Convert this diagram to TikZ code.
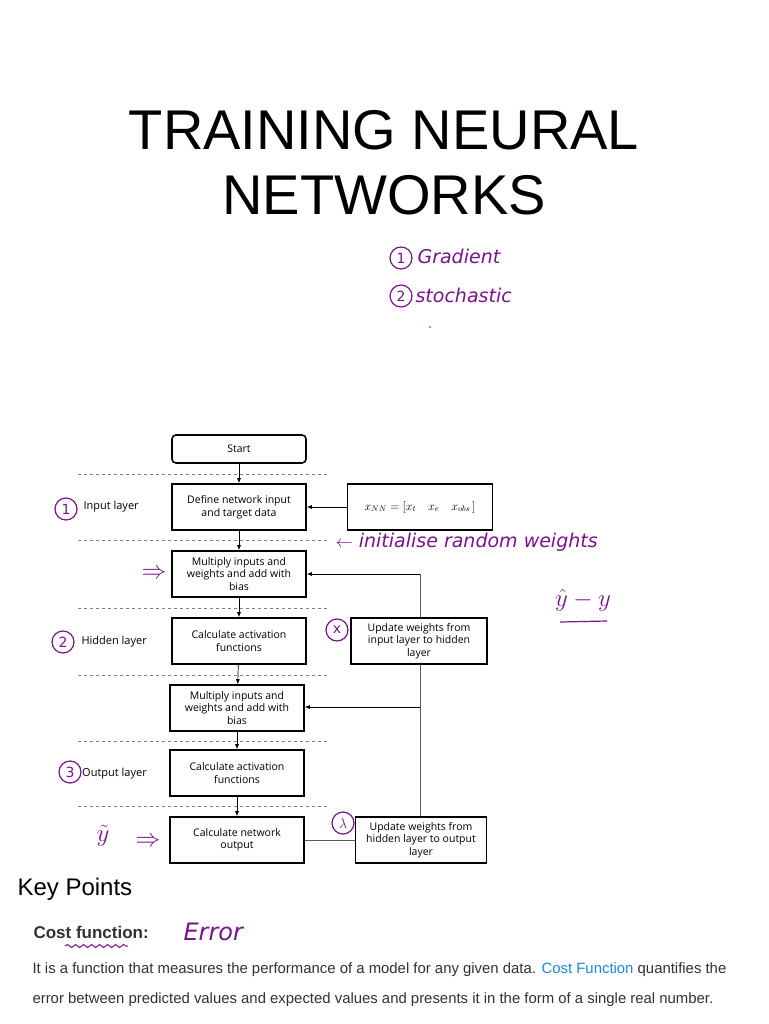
\documentclass[tikz,border=0pt]{standalone}
\usepackage{fontspec}
\setmainfont{Liberation Sans}
\newfontfamily\fc{Open Sans}
\newfontfamily\hw{DejaVu Sans}
\usetikzlibrary{arrows.meta,decorations.pathmorphing}
\definecolor{pen}{RGB}{120,20,140}
\definecolor{body}{RGB}{50,50,50}
\definecolor{link}{RGB}{30,136,229}
\begin{document}
\begin{tikzpicture}[x=1pt,y=-1pt,
  box/.style={draw,line width=1.6pt,minimum width=134pt,minimum height=46pt,align=center,font=\fc\fontsize{10.5}{12.5}\selectfont,inner sep=2pt},
  ubox/.style={box,minimum width=136pt},
  dsh/.style={gray,dashed,line width=0.6pt},
  arr/.style={-{Latex[length=5pt,width=4pt]},line width=0.7pt},
  gline/.style={gray!70!black,line width=0.9pt},
  hw/.style={pen,font=\hw\itshape\fontsize{19}{22}\selectfont},
  circ/.style={draw=pen,circle,line width=1.2pt,inner sep=1pt,minimum size=22pt,text=pen,font=\hw\fontsize{14}{14}\selectfont},
  lab/.style={font=\fc\fontsize{11}{12}\selectfont,anchor=west}]
\useasboundingbox (0,0) rectangle (768,1024);
\fill[white] (0,0) rectangle (768,1024);
% title
\node (t1) at (384,130) {\fontsize{56}{60}\selectfont TRAINING NEURAL};
\node (t2) at (384,195) {\fontsize{56}{60}\selectfont NETWORKS};
% handwriting top
\node[circ] (c1) at (401,258) {1};
\node[hw,anchor=west] (g1) at (414,256) {Gradient};
\node[circ] (c2) at (401,296) {2};
\node[hw,anchor=west] (g2) at (412,295) {stochastic};
\fill[pen] (430,327) circle (0.8);
% dashed lines
\foreach \y in {474,540,608,675,741,806} \draw[dsh] (78,\y) -- (328,\y);
% boxes
\node[box,rounded corners=4pt,minimum height=28pt] (start) at (239,449) {Start};
\node[box] (b1) at (239,507) {Define network input\\and target data};
\node[box,minimum width=145pt,font=\fontsize{12}{14}\selectfont] (xnn) at (420,507) {$x_{NN}=\left[x_t\quad x_e\quad x_{obs}\,\right]$};
\node[box] (b2) at (239,574) {Multiply inputs and\\weights and add with\\bias};
\node[box] (b3) at (239,641) {Calculate activation\\functions};
\node[ubox] (ua) at (419,641) {Update weights from\\input layer to hidden\\layer};
\node[box] (b4) at (237,708) {Multiply inputs and\\weights and add with\\bias};
\node[box] (b5) at (237,773) {Calculate activation\\functions};
\node[box] (b6) at (237,840) {Calculate network\\output};
\node[box,minimum width=131pt] (ub) at (421,840) {Update weights from\\hidden layer to output\\layer};
% arrows
\draw[arr] (start) -- (b1);
\draw[arr] (b1) -- (b2);
\draw[arr] (b2) -- (b3);
\draw[arr] (b3) -- (b4);
\draw[arr] (b4) -- (b5);
\draw[arr] (b5) -- (b6);
\draw[arr] (xnn) -- (b1);
\coordinate (j1) at (420,574);
\coordinate (j2) at (420,707);
\draw[gline] (ua.north -| j1) -- (j1);
\draw[arr] (j1) -- (b2.east |- j1);
\draw[gline] (ub.north -| j1) -- (ua.south -| j1);
\draw[arr] (j2) -- (b4.east |- j2);
\draw[gline] (b6) -- (ub);
% labels
\node[circ] (n1) at (66,509) {1};
\node[lab] (l1) at (80,507) {Input layer};
\node[circ] (n2) at (63,642) {2};
\node[lab] (l2) at (78,642) {Hidden layer};
\node[circ] (n3) at (70,772) {3};
\node[lab,inner sep=0pt] (l3) at (82,774) {Output layer};
\node[pen,font=\fontsize{24}{24}\selectfont] (d1) at (154,574) {$\Rightarrow$};
\node[pen,font=\fontsize{24}{24}\selectfont] (d2) at (148,842) {$\Rightarrow$};
\node[pen,font=\fontsize{28}{28}\selectfont] (yh) at (103,836) {$\tilde{y}$};
\node[circ] (cx) at (337,630) {x};
\node[circ] (cl) at (343,823) {$\lambda$};
\node[hw,anchor=west] (iw) at (332,542) {$\leftarrow$ initialise random weights};
\node[pen,font=\fontsize{28}{28}\selectfont] (yy) at (583,600) {$\hat{y}-y$};
\draw[pen,line width=1.2pt] (560,622) -- (607,621);
% key points
\node[anchor=west,font=\fontsize{24}{26}\selectfont] (kp) at (14,889) {Key Points};
\node[anchor=west,body,font=\bfseries\fontsize{17}{20}\selectfont] (cf) at (30,932) {Cost function:};
\node[hw,anchor=west,font=\hw\itshape\fontsize{24}{24}\selectfont] (er) at (180,932) {Error};
\draw[pen,line width=1pt,decorate,decoration={snake,amplitude=1.5pt,segment length=8pt}] (65,946) -- (128,946);
\node[anchor=west,body,font=\fontsize{14.9}{16}\selectfont] (p1) at (29,970) {It is a function that measures the performance of a model for any given data. \textcolor{link}{Cost Function} quantifies the};
\node[anchor=west,body,font=\fontsize{14.9}{16}\selectfont] (p2) at (29,1000) {error between predicted values and expected values and presents it in the form of a single real number.};
\end{tikzpicture}
\end{document}
